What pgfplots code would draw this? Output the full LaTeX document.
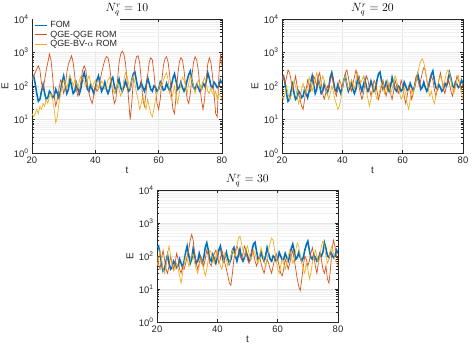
\documentclass[border=0pt]{standalone}
\usepackage{fontspec}
\setmainfont{Liberation Sans}
\usepackage{pgfplots}
\usepackage{pgfplotstable}
\pgfplotsset{compat=1.18}
\definecolor{mblue}{HTML}{0072BD}
\definecolor{morange}{HTML}{D95319}
\definecolor{myellow}{HTML}{EDB120}
\definecolor{maxis}{gray}{0.15}

\pgfplotstableread{
t fom a1 b1 a2 b2 a3 b3
20 180 150 15 150 50 100 50
20.5 200 200 12 200 40 60 80
21 120 250 15 120 60 40 150
21.5 60 320 20 180 100 80 80
22 35 400 15 300 60 150 40
22.5 40 300 25 250 40 80 30
23 70 120 20 150 50 40 50
23.5 110 80 30 80 80 30 120
24 60 150 25 120 150 50 200
24.5 40 300 40 200 100 100 100
25 45 500 30 100 50 60 50
25.5 70 900 50 60 30 40 35
26 60 600 60 40 40 60 40
26.5 45 200 40 25 80 120 60
27 50 50 20 20 120 80 40
27.5 80 25 8 40 80 40 25
28 60 40 12 80 60 30 15
28.5 45 80 30 150 100 50 30
29 70 150 60 100 180 40 60
29.5 130 120 100 70 120 60 100
30 200 60 150 120 70 100 80
30.5 110 90 120 200 100 150 50
31 60 250 80 150 150 300 70
31.5 80 450 150 100 250 450 120
32 170 600 200 180 180 300 100
32.5 100 800 150 250 100 120 60
33 60 500 100 120 120 60 40
33.5 70 200 150 60 200 40 30
34 120 80 120 40 150 60 50
34.5 80 50 90 60 80 100 80
35 60 70 150 100 60 70 60
35.5 90 150 200 80 40 50 40
36 180 300 180 150 60 80 25
36.5 250 400 120 200 100 150 40
37 150 300 100 120 70 100 80
37.5 80 120 150 70 40 60 150
38 70 60 200 50 30 50 120
38.5 110 40 130 80 20 80 80
39 80 30 90 150 25 120 60
39.5 60 50 120 120 40 150 100
40 90 100 150 80 80 100 150
40.5 150 70 110 150 150 60 80
41 200 80 80 250 200 80 50
41.5 110 150 100 300 120 150 40
42 70 250 140 180 80 100 70
42.5 90 400 120 100 100 60 120
43 130 600 80 70 150 40 80
43.5 80 750 100 120 120 25 50
44 60 700 150 180 80 15 60
44.5 80 400 180 300 150 13 100
45 150 150 120 200 250 30 150
45.5 180 60 90 100 180 80 120
46 100 30 60 60 120 150 100
46.5 70 40 80 40 150 200 200
47 110 150 120 60 200 150 350
47.5 160 500 80 120 120 100 400
48 90 900 50 200 70 80 250
48.5 70 1100 70 150 40 120 150
49 90 900 150 80 25 200 100
49.5 140 500 250 50 40 150 150
50 100 150 200 80 70 80 200
50.5 70 40 120 150 100 60 120
51 80 10 80 120 60 100 80
51.5 150 30 150 70 40 150 100
52 230 150 200 40 50 120 150
52.5 260 450 120 60 80 70 120
53 140 750 60 100 120 50 80
53.5 80 800 40 150 90 70 60
54 90 500 20 80 60 100 100
54.5 130 150 30 50 80 60 180
55 90 40 50 80 150 40 120
55.5 70 25 30 120 100 30 70
56 100 60 20 60 60 50 50
56.5 180 200 40 40 80 80 80
57 120 500 25 70 130 60 150
57.5 80 700 15 150 200 40 250
58 70 600 12 100 150 30 350
58.5 100 250 20 60 90 50 300
59 90 80 40 80 60 80 150
59.5 70 30 60 150 40 120 80
60 80 20 80 100 50 80 40
60.5 130 40 120 50 90 50 30
61 100 150 100 30 60 30 50
61.5 75 400 150 50 30 25 80
62 80 650 200 100 20 40 60
62.5 120 750 250 70 40 80 40
63 90 500 150 40 80 60 60
63.5 70 200 60 60 60 40 100
64 100 60 40 120 100 60 150
64.5 170 20 60 200 150 100 100
65 230 15 100 150 250 150 60
65.5 140 50 50 100 400 80 80
66 80 200 30 150 550 40 150
66.5 90 500 60 250 650 20 250
67 130 700 120 350 500 12 200
67.5 90 600 180 300 300 9 100
68 70 300 150 150 150 20 60
68.5 90 100 100 80 80 50 40
69 150 40 60 120 50 100 30
69.5 220 30 120 200 70 80 60
70 280 60 200 150 40 50 40
70.5 150 200 150 80 30 70 20
71 90 500 100 50 50 120 30
71.5 80 750 60 80 100 180 60
72 110 600 100 150 150 100 100
72.5 90 300 150 250 200 50 150
73 70 100 120 150 150 30 100
73.5 80 40 80 80 100 60 60
74 120 20 130 60 150 120 100
74.5 100 40 180 100 250 80 200
75 130 150 120 180 300 40 280
75.5 250 450 70 120 250 30 200
76 170 700 60 70 150 50 100
76.5 100 500 90 50 80 20 60
77 90 200 60 80 60 15 80
77.5 130 60 50 120 90 40 150
78 110 15 70 200 150 150 200
78.5 90 12 40 150 200 300 120
79 100 200 60 100 100 200 80
79.5 150 800 50 80 60 100 60
80 120 400 40 120 40 80 50
}\data

\tikzset{
  fomline/.style={mblue, line width=1.6pt},
  qqline/.style={morange, line width=0.7pt},
  qbline/.style={myellow, line width=0.7pt},
}
\pgfplotsset{
  every axis/.append style={
    scale only axis,
    xmin=20, xmax=80, ymin=1, ymax=10000,
    xtick={20,40,60,80},
    ytick={1,10,100,1000,10000},
    yticklabels={10\textsuperscript{0},10\textsuperscript{1},10\textsuperscript{2},10\textsuperscript{3},10\textsuperscript{4}},
    grid=both,
    major grid style={gray!20, line width=0.4pt},
    minor grid style={gray!11, line width=0.3pt},
    axis line style={maxis, line width=0.45pt},
    tick style={maxis, line width=0.4pt},
    tick align=inside,
    major tick length=3bp,
    minor tick length=1.6bp,
    ticklabel style={font=\fontsize{9.5}{10}\selectfont, text=maxis},
    label style={font=\fontsize{10}{11}\selectfont, text=maxis},
    xlabel={t}, ylabel={E},
    xlabel style={yshift=3bp},
    title style={font=\fontsize{12}{13}\selectfont, yshift=-7bp},
  },
  every axis y label/.style={at={(axis description cs:0,0.5)}, xshift=-27bp, rotate=90, anchor=center},
}

\begin{document}
\begin{tikzpicture}
\useasboundingbox (0,0) rectangle (474bp,348bp);
\begin{semilogyaxis}[at={(32bp,195bp)}, anchor=south west, width=190bp, height=134bp,
  /pgf/number format/assume math mode=true,
  title={$N_q^r = 10$},
  legend style={at={(0,1)}, anchor=north west, xshift=1bp, yshift=1bp, font=\fontsize{9}{10}\selectfont, draw=none, fill=white, inner sep=1.5pt, row sep=-2.5pt, cells={anchor=west}, text=maxis},
  legend image code/.code={\draw[#1] (6bp,0) -- (18bp,0);}]
\addplot[fomline] table[x=t,y=fom]{\data};
\addplot[qqline] table[x=t,y=a1]{\data};
\addplot[qbline] table[x=t,y=b1]{\data};
\legend{FOM, QGE-QGE ROM, QGE-BV-$\alpha$ ROM}
\end{semilogyaxis}
\begin{semilogyaxis}[at={(282bp,195bp)}, anchor=south west, width=181bp, height=134bp,
  /pgf/number format/assume math mode=true,
  title={$N_q^r = 20$}]
\addplot[fomline] table[x=t,y=fom]{\data};
\addplot[qqline] table[x=t,y=a2]{\data};
\addplot[qbline] table[x=t,y=b2]{\data};
\end{semilogyaxis}
\begin{semilogyaxis}[at={(157bp,26bp)}, anchor=south west, width=181bp, height=132bp,
  /pgf/number format/assume math mode=true,
  title={$N_q^r = 30$}]
\addplot[fomline] table[x=t,y=fom]{\data};
\addplot[qqline] table[x=t,y=a3]{\data};
\addplot[qbline] table[x=t,y=b3]{\data};
\end{semilogyaxis}
\end{tikzpicture}
\end{document}
